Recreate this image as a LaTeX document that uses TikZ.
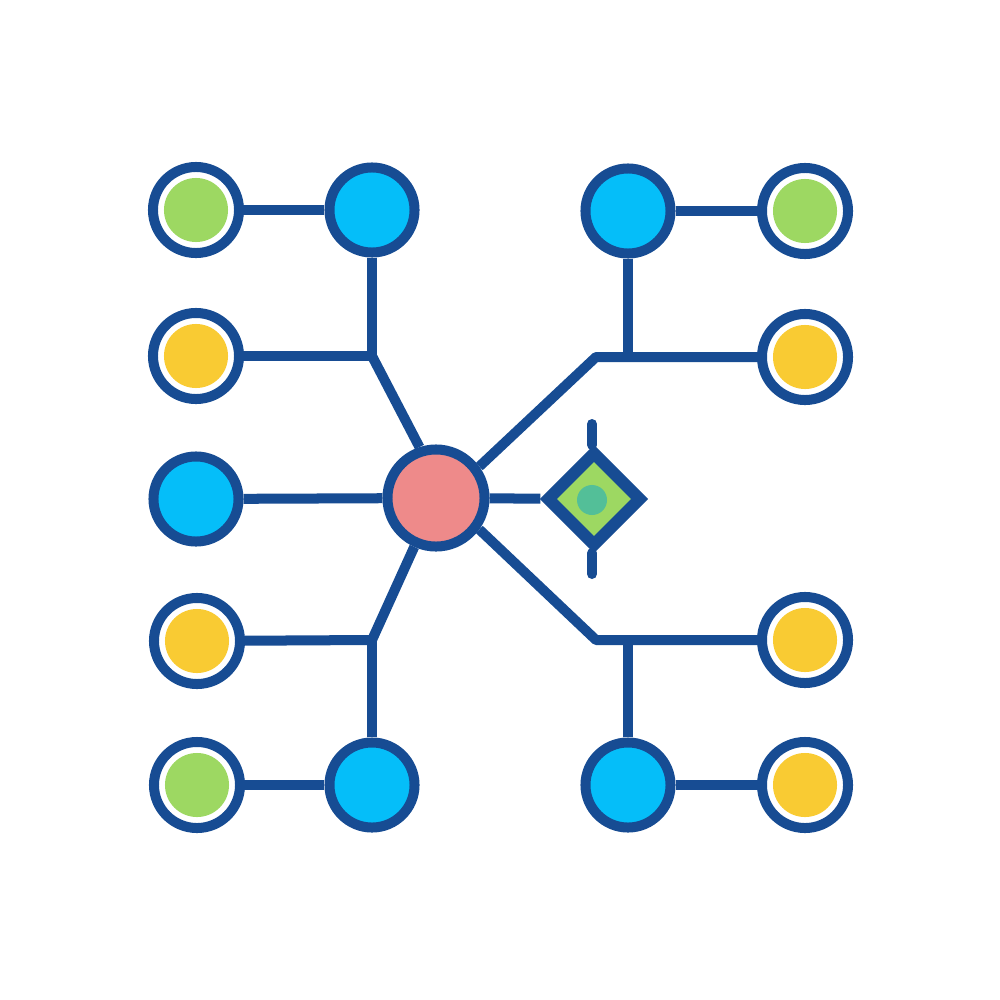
\documentclass[tikz,border=0pt]{standalone}
\usetikzlibrary{shapes.geometric}
\definecolor{navy}{HTML}{174C93}
\definecolor{sky}{HTML}{05BEF9}
\definecolor{leaf}{HTML}{9DD862}
\definecolor{sun}{HTML}{F9CB33}
\definecolor{rose}{HTML}{EE8A8A}
\definecolor{teal}{HTML}{53BF98}
\tikzstyle{link} = [draw=navy, line width=0.1cm, line join=round]
\tikzstyle{hub} = [circle, draw=navy, line width=0.1cm, fill=sky, minimum size=0.85cm, inner sep=0pt]
\tikzstyle{core} = [circle, draw=navy, line width=0.1cm, fill=rose, minimum size=0.97cm, inner sep=0pt]
\tikzstyle{ring} = [circle, draw=navy, line width=0.1cm, fill=white, minimum size=0.86cm, inner sep=0pt,
  path picture={\fill[#1] (path picture bounding box.center) circle (0.32cm);}]
\tikzstyle{gem} = [diamond, aspect=1, draw=navy, line width=0.12cm, fill=leaf, minimum width=0.96cm, minimum height=0.96cm, inner sep=0pt]

\begin{document}
\begin{tikzpicture}[x=0.01cm, y=-0.01cm]
\useasboundingbox (0,0) rectangle (1000,1000);
	% left side
	\node (lg1) [ring=leaf] at (196,210) {};
	\node (ly1) [ring=sun] at (196,356) {};
	\node (lb) [hub] at (196,499) {};
	\node (ly2) [ring=sun] at (197,641) {};
	\node (lg2) [ring=leaf] at (197,785) {};
	\node (b1) [hub] at (372,210) {};
	\node (b2) [hub] at (372,785) {};
	% right side
	\node (b3) [hub] at (628,211) {};
	\node (b4) [hub] at (628,785) {};
	\node (rg1) [ring=leaf] at (805,211) {};
	\node (ry1) [ring=sun] at (805,357) {};
	\node (ry2) [ring=sun] at (805,640) {};
	\node (ry3) [ring=sun] at (805,785) {};
	% centre
	\node (ctr) [core] at (436,498) {};
	\node (gem) [gem] at (594,499) {};
	\fill[teal] (gem.center) ++(-2,1) circle (0.15cm);
	\coordinate (j1) at (372,356);
	\coordinate (j2) at (372,640);
	\coordinate (j3) at (596,357);
	\coordinate (j4) at (596,640);
	\coordinate (top) at (592,424);
	\coordinate (bot) at (592,574);
%lines
\draw [link] (lg1) -- (b1);
\draw [link] (b1) -- (j1);
\draw [link] (ly1) -- (j1);
\draw [link] (j1) -- (ctr.108);
\draw [link] (lb) -- (ctr);
\draw [link] (ly2) -- (j2);
\draw [link] (b2) -- (j2);
\draw [link] (j2) -- (ctr.246);
\draw [link] (lg2) -- (b2);
\draw [link] (b3) -- (rg1);
\draw [link] (b3) -- (b3 |- j3);
\draw [link] (ry1) -- (j3) -- (ctr.36);
\draw [link] (ry2) -- (j4) -- (ctr.-36);
\draw [link] (b4) -- (b4 |- j4);
\draw [link] (b4) -- (ry3);
\draw [link] (ctr) -- (gem);
\draw [link, line cap=round] (gem.north -| top) -- (top);
\draw [link, line cap=round] (gem.south -| bot) -- (bot);
\end{tikzpicture}
\end{document}
